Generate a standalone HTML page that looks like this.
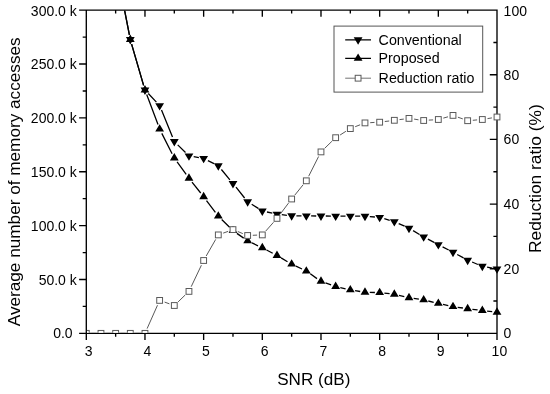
<!DOCTYPE html>
<html><head><meta charset="utf-8"><title>chart</title>
<style>html,body{margin:0;padding:0;background:#fff}svg{display:block}text{font-family:"Liberation Sans",Arial,sans-serif;fill:#000}</style>
</head><body>
<svg width="550" height="394" viewBox="0 0 550 394">
<rect width="550" height="394" fill="#fff"/>
<clipPath id="pc"><rect x="86.97" y="10.83" width="422.70" height="321.85"/></clipPath>
<path d="M86.3 10.15H497.0V333.35H86.3ZM86.30 333.35v6.6M115.64 333.35v3.4M115.64 10.15v3.4M144.97 333.35v6.6M144.97 10.15v6.6M174.31 333.35v3.4M174.31 10.15v3.4M203.64 333.35v6.6M203.64 10.15v6.6M232.98 333.35v3.4M232.98 10.15v3.4M262.31 333.35v6.6M262.31 10.15v6.6M291.65 333.35v3.4M291.65 10.15v3.4M320.99 333.35v6.6M320.99 10.15v6.6M350.32 333.35v3.4M350.32 10.15v3.4M379.66 333.35v6.6M379.66 10.15v6.6M408.99 333.35v3.4M408.99 10.15v3.4M438.33 333.35v6.6M438.33 10.15v6.6M467.66 333.35v3.4M467.66 10.15v3.4M497.00 333.35v6.6M86.3 333.35h-7.2M86.3 306.42h-3.6M86.3 279.48h-7.2M86.3 252.55h-3.6M86.3 225.62h-7.2M86.3 198.68h-3.6M86.3 171.75h-7.2M86.3 144.82h-3.6M86.3 117.88h-7.2M86.3 90.95h-3.6M86.3 64.02h-7.2M86.3 37.08h-3.6M86.3 10.15h-7.2M497.0 333.35h-7.2M497.0 301.03h-3.6M497.0 268.71h-7.2M497.0 236.39h-3.6M497.0 204.07h-7.2M497.0 171.75h-3.6M497.0 139.43h-7.2M497.0 107.11h-3.6M497.0 74.79h-7.2M497.0 42.47h-3.6M497.0 10.15h-7.2" stroke="#000" stroke-width="1.35" fill="none"/>
<g clip-path="url(#pc)"><path d="M116.6 -30.3L129.4 34.8M131.6 44.1L143.6 85.4M148.3 93.5L156.4 102.1M161.5 110.0L172.5 137.1M177.7 144.9L185.5 152.5M193.7 156.7L198.9 157.6M207.9 160.6L214.0 163.6M221.4 169.5L229.9 179.8M236.0 187.2L244.6 198.0M251.7 204.3L258.3 208.4M267.0 212.0L272.3 213.2M281.8 214.7L286.9 215.3M296.4 215.8L301.5 215.9M311.1 215.9L316.2 216.0M325.8 216.0L330.9 216.1M340.5 216.1L345.5 216.1M355.1 216.2L360.2 216.2M369.8 216.7L374.9 217.0M384.3 218.7L389.7 220.3M398.7 223.6L404.6 226.2M413.1 230.6L419.5 234.5M427.9 239.1L434.1 242.4M442.6 246.8L448.7 250.0M457.2 254.5L463.5 257.9M472.1 262.0L477.9 264.5M487.1 267.1L492.3 268.1" stroke="#000" stroke-width="1.3" fill="none"/>
<path fill="#000" d="M125.90 37.03H134.70L130.30 44.43ZM140.57 87.53H149.37L144.97 94.93ZM155.24 103.13H164.04L159.64 110.53ZM169.91 139.03H178.71L174.31 146.43ZM184.57 153.43H193.38L188.97 160.83ZM199.24 155.93H208.04L203.64 163.33ZM213.91 163.33H222.71L218.31 170.73ZM228.58 181.03H237.38L232.98 188.43ZM243.25 199.23H252.05L247.65 206.63ZM257.91 208.53H266.71L262.31 215.93ZM272.58 211.73H281.38L276.98 219.13ZM287.25 213.33H296.05L291.65 220.73ZM301.92 213.43H310.72L306.32 220.83ZM316.59 213.53H325.39L320.99 220.93ZM331.25 213.63H340.05L335.65 221.03ZM345.92 213.63H354.72L350.32 221.03ZM360.59 213.83H369.39L364.99 221.23ZM375.26 214.93H384.06L379.66 222.33ZM389.93 219.13H398.72L394.32 226.53ZM404.59 225.73H413.39L408.99 233.13ZM419.26 234.43H428.06L423.66 241.83ZM433.93 242.13H442.73L438.33 249.53ZM448.60 249.73H457.40L453.00 257.13ZM463.26 257.73H472.06L467.66 265.13ZM477.93 263.83H486.73L482.33 271.23ZM492.60 266.43H501.40L497.00 273.83Z"/>
<path d="M116.6 -30.3L129.4 34.8M131.6 44.1L143.6 85.4M146.7 94.5L158.0 124.6M161.8 133.4L172.1 153.7M177.1 161.9L186.2 174.4M192.0 182.1L200.7 193.0M206.5 200.6L215.4 212.3M221.7 219.5L229.6 227.2M236.9 233.4L243.7 238.1M252.0 242.9L258.0 245.8M266.6 250.0L272.7 253.3M281.1 257.9L287.5 261.7M296.0 266.2L302.0 269.0M310.3 273.8L317.0 278.6M325.5 282.9L331.1 284.9M340.3 287.6L345.6 288.8M355.1 290.6L360.2 291.5M369.8 292.3L374.9 292.5M384.4 293.1L389.6 293.7M399.0 295.3L404.3 296.6M413.7 298.4L418.9 299.2M428.3 301.0L433.7 302.3M443.0 304.4L448.3 305.6M457.7 307.3L462.9 308.0M472.4 309.3L477.6 309.9M487.1 311.1L492.2 311.6" stroke="#000" stroke-width="1.3" fill="none"/>
<path fill="#000" d="M125.90 41.97H134.70L130.30 34.57ZM140.57 92.47H149.37L144.97 85.07ZM155.24 131.57H164.04L159.64 124.17ZM169.91 160.47H178.71L174.31 153.07ZM184.57 180.77H193.38L188.97 173.37ZM199.24 199.27H208.04L203.64 191.87ZM213.91 218.57H222.71L218.31 211.17ZM228.58 233.07H237.38L232.98 225.67ZM243.25 243.37H252.05L247.65 235.97ZM257.91 250.27H266.71L262.31 242.87ZM272.58 257.97H281.38L276.98 250.57ZM287.25 266.57H296.05L291.65 259.17ZM301.92 273.57H310.72L306.32 266.17ZM316.59 283.77H325.39L320.99 276.37ZM331.25 288.97H340.05L335.65 281.57ZM345.92 292.37H354.72L350.32 284.97ZM360.59 294.67H369.39L364.99 287.27ZM375.26 295.07H384.06L379.66 287.67ZM389.93 296.67H398.72L394.32 289.27ZM404.59 300.17H413.39L408.99 292.77ZM419.26 302.37H428.06L423.66 294.97ZM433.93 305.87H442.73L438.33 298.47ZM448.60 309.07H457.40L453.00 301.67ZM463.26 311.17H472.06L467.66 303.77ZM477.93 312.97H486.73L482.33 305.57ZM492.60 314.67H501.40L497.00 307.27Z"/>
<path d="M91.5 333.4L95.8 333.4M106.2 333.4L110.4 333.4M120.8 333.4L125.1 333.4M135.5 333.4L139.8 333.4M147.1 328.6L157.5 305.2M164.6 302.1L169.4 303.8M178.1 301.9L185.2 295.0M191.2 286.7L201.4 265.2M206.2 256.0L215.7 239.4M223.2 233.1L228.1 231.4M237.8 231.5L242.8 233.6M252.8 235.3L257.1 235.1M265.8 231.0L273.5 222.3M280.1 214.3L288.5 203.1M294.9 195.0L303.1 184.8M308.7 176.2L318.6 156.5M324.7 148.3L331.9 141.3M340.1 135.0L345.9 131.3M355.2 126.7L360.1 124.8M370.2 122.7L374.5 122.4M384.8 121.5L389.2 121.0M399.5 119.6L403.8 119.1M414.1 119.1L418.5 119.8M428.8 120.1L433.1 119.9M443.3 118.1L448.0 116.8M457.9 117.2L462.8 118.9M472.8 120.3L477.1 119.9M487.5 118.6L491.9 117.9" stroke="#505050" stroke-width="0.95" fill="none"/>
<g fill="#fff" stroke="#5a5a5a" stroke-width="1"><rect x="83.40" y="330.45" width="5.8" height="5.8"/><rect x="98.07" y="330.45" width="5.8" height="5.8"/><rect x="112.74" y="330.45" width="5.8" height="5.8"/><rect x="127.40" y="330.45" width="5.8" height="5.8"/><rect x="142.07" y="330.45" width="5.8" height="5.8"/><rect x="156.74" y="297.50" width="5.8" height="5.8"/><rect x="171.41" y="302.60" width="5.8" height="5.8"/><rect x="186.07" y="288.50" width="5.8" height="5.8"/><rect x="200.74" y="257.60" width="5.8" height="5.8"/><rect x="215.41" y="232.00" width="5.8" height="5.8"/><rect x="230.08" y="226.70" width="5.8" height="5.8"/><rect x="244.75" y="232.60" width="5.8" height="5.8"/><rect x="259.41" y="232.00" width="5.8" height="5.8"/><rect x="274.08" y="215.50" width="5.8" height="5.8"/><rect x="288.75" y="196.10" width="5.8" height="5.8"/><rect x="303.42" y="177.90" width="5.8" height="5.8"/><rect x="318.09" y="149.00" width="5.8" height="5.8"/><rect x="332.75" y="134.80" width="5.8" height="5.8"/><rect x="347.42" y="125.70" width="5.8" height="5.8"/><rect x="362.09" y="120.00" width="5.8" height="5.8"/><rect x="376.76" y="119.30" width="5.8" height="5.8"/><rect x="391.43" y="117.40" width="5.8" height="5.8"/><rect x="406.09" y="115.50" width="5.8" height="5.8"/><rect x="420.76" y="117.60" width="5.8" height="5.8"/><rect x="435.43" y="116.60" width="5.8" height="5.8"/><rect x="450.10" y="112.50" width="5.8" height="5.8"/><rect x="464.76" y="117.80" width="5.8" height="5.8"/><rect x="479.43" y="116.60" width="5.8" height="5.8"/><rect x="494.10" y="114.10" width="5.8" height="5.8"/></g></g>
<g font-size="14"><text x="72.6" y="338.4" text-anchor="end">0.0</text><text x="76.8" y="284.5" text-anchor="end">50.0 k</text><text x="76.8" y="230.6" text-anchor="end">100.0 k</text><text x="76.8" y="176.8" text-anchor="end">150.0 k</text><text x="76.8" y="122.9" text-anchor="end">200.0 k</text><text x="76.8" y="69.0" text-anchor="end">250.0 k</text><text x="76.8" y="15.7" text-anchor="end">300.0 k</text><text x="503.6" y="338.4">0</text><text x="503.6" y="273.7">20</text><text x="503.6" y="209.1">40</text><text x="503.6" y="144.4">60</text><text x="503.6" y="79.8">80</text><text x="503.6" y="15.7">100</text><text x="88.7" y="356.4" text-anchor="middle">3</text><text x="147.4" y="356.4" text-anchor="middle">4</text><text x="206.0" y="356.4" text-anchor="middle">5</text><text x="264.7" y="356.4" text-anchor="middle">6</text><text x="323.4" y="356.4" text-anchor="middle">7</text><text x="382.1" y="356.4" text-anchor="middle">8</text><text x="440.7" y="356.4" text-anchor="middle">9</text><text x="499.4" y="356.4" text-anchor="middle">10</text></g>
<text x="313.8" y="384.7" text-anchor="middle" font-size="17.1">SNR (dB)</text><text transform="translate(19.6 181.8) rotate(-90)" text-anchor="middle" font-size="17.18">Average number of memory accesses</text><text transform="translate(541 178.65) rotate(-90)" text-anchor="middle" font-size="17.39">Reduction ratio (%)</text>
<rect x="334.0" y="26.1" width="148.7" height="66.0" fill="#fff" stroke="#555" stroke-width="1"/><path d="M345.2 39.8h25.8M345.2 58.4h25.8" stroke="#000" stroke-width="1.35"/><path d="M345.2 78.2h25.8" stroke="#5a5a5a" stroke-width="0.85"/><path d="M353.70 37.33H362.50L358.10 44.73ZM353.70 60.87H362.50L358.10 53.47Z"/><rect x="355.20" y="75.30" width="5.8" height="5.8" fill="#fff" stroke="#5a5a5a"/><g font-size="14.25"><text x="378.6" y="44.8">Conventional</text><text x="378.6" y="62.9">Proposed</text><text x="378.6" y="82.5">Reduction ratio</text></g>
</svg>
</body></html>
